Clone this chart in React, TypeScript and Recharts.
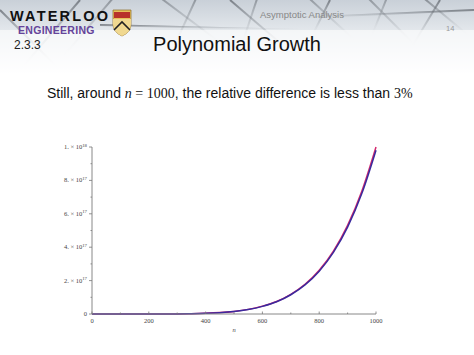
import React from "react";
import { Line, LineChart, XAxis, YAxis } from "recharts";

// n values and the two curves, in units of 10^18
const nValues = [0, 50, 100, 150, 200, 250, 300, 350, 400, 450, 500, 550, 600, 650, 700, 750, 800, 850, 900, 950, 1000];
const upperCurve = [0, 0, 0.000001, 0.00001, 0.00006, 0.00024, 0.0007, 0.0018, 0.0041, 0.0083, 0.0156, 0.0277, 0.047, 0.075, 0.118, 0.178, 0.262, 0.377, 0.531, 0.735, 1.0];
const lowerCurve = [0, 0, 0.0000009, 0.0000095, 0.000057, 0.00023, 0.00067, 0.00173, 0.00395, 0.008, 0.0151, 0.0269, 0.0457, 0.0731, 0.1153, 0.1741, 0.2563, 0.3692, 0.5204, 0.7209, 0.981];

const xTicks = [0, 100, 200, 300, 400, 500, 600, 700, 800, 900, 1000];
const xLabels = ["0", "", "200", "", "400", "", "600", "", "800", "", "1000"];
const yTicks = [0, 0.1, 0.2, 0.3, 0.4, 0.5, 0.6, 0.7, 0.8, 0.9, 1.0];
const yMantissa = ["0", "", "2.", "", "4.", "", "6.", "", "8.", "", "1."];
const yExponent = ["", "", "17", "", "17", "", "17", "", "17", "", "18"];

const data = nValues.map((n, i) => ({ n, upper: upperCurve[i], lower: lowerCurve[i] }));

const tickColor = "#777";
const labelColor = "#444";
const serif = "'Liberation Serif', 'DejaVu Serif', serif";

function YTick(props: any) {
  const { x, y, index } = props;
  const major = yMantissa[index] !== "";
  return (
    <g>
      <line x1={x - (major ? 3 : 1.5)} x2={x} y1={y} y2={y} stroke={tickColor} strokeWidth={0.8} />
      {major && (
        <text x={x - 5} y={y + 2} textAnchor="end" fontSize={6.5} fill={labelColor} fontFamily={serif}>
          {yExponent[index] ? (
            <>
              {yMantissa[index]} × 10
              <tspan dy={-2.5} fontSize={4.8}>
                {yExponent[index]}
              </tspan>
            </>
          ) : (
            yMantissa[index]
          )}
        </text>
      )}
    </g>
  );
}

function XTick(props: any) {
  const { x, y, index } = props;
  const major = xLabels[index] !== "";
  return (
    <g>
      <line x1={x} x2={x} y1={y} y2={y - (major ? 2.5 : 1.5)} stroke={tickColor} strokeWidth={0.8} />
      {major && (
        <text x={x} y={y + 9} textAnchor="middle" fontSize={6.5} fill={labelColor} fontFamily={serif}>
          {xLabels[index]}
        </text>
      )}
    </g>
  );
}

function Header() {
  const beams = [
    [120, -10, 60, 60], [150, -10, 230, 50], [200, -10, 170, 55], [230, 0, 300, 60],
    [260, -10, 240, 50], [300, -10, 360, 45], [330, 0, 310, 40], [360, -10, 420, 50],
    [390, -10, 370, 40], [420, -5, 474, 40], [440, 0, 410, 50], [80, 0, 20, 70],
    [0, 10, 60, 70], [250, 20, 474, 10], [100, 25, 300, 30],
  ];
  return (
    <svg width={474} height={75} style={{ position: "absolute", left: 0, top: 0 }}>
      <defs>
        <linearGradient id="fade" x1="0" y1="0" x2="0" y2="1">
          <stop offset="0" stopColor="#c9d0d8" />
          <stop offset="0.45" stopColor="#e6eaee" />
          <stop offset="1" stopColor="#ffffff" />
        </linearGradient>
        <linearGradient id="beamFade" x1="0" y1="0" x2="0" y2="1">
          <stop offset="0" stopColor="#5a5f66" stopOpacity={0.7} />
          <stop offset="0.6" stopColor="#8a9096" stopOpacity={0.2} />
          <stop offset="1" stopColor="#ffffff" stopOpacity={0} />
        </linearGradient>
      </defs>
      <rect x={0} y={0} width={474} height={75} fill="url(#fade)" />
      {beams.map((b, i) => (
        <line key={i} x1={b[0]} y1={b[1]} x2={b[2]} y2={b[3]} stroke="url(#beamFade)" strokeWidth={2} />
      ))}
      <rect x={0} y={30} width={474} height={45} fill="#ffffff" opacity={0.6} />
      {/* shield */}
      <path d="M113 10 L131 10 L131 24 Q131 32 122 36 Q113 32 113 24 Z" fill="#e7c15a" stroke="#8a6a2a" strokeWidth={0.7} />
      <path d="M113 19 L131 19 L131 24 Q131 32 122 36 Q113 32 113 24 Z" fill="#f0d890" />
      <path d="M114 12 L130 12 L130 18 L114 18 Z" fill="#b8322b" />
      <path d="M114 30 L122 22 L130 30" fill="none" stroke="#222" strokeWidth={1.6} />
    </svg>
  );
}

export default function App() {
  return (
    <div
      style={{
        position: "absolute",
        left: 0,
        top: 0,
        width: 474,
        height: 355,
        background: "#fff",
        overflow: "hidden",
        fontFamily: "'Liberation Sans', Arial, sans-serif",
      }}
    >
      <Header />
      <div style={{ position: "absolute", left: 10, top: 8, fontSize: 14.5, fontWeight: 700, color: "#111", letterSpacing: 2.2 }}>
        WATERLOO
      </div>
      <div style={{ position: "absolute", left: 18, top: 24, fontSize: 10.5, fontWeight: 700, color: "#65449a", letterSpacing: 0.3 }}>
        ENGINEERING
      </div>
      <div style={{ position: "absolute", left: 260, top: 9, fontSize: 9.5, color: "#888" }}>Asymptotic Analysis</div>
      <div style={{ position: "absolute", left: 446, top: 24, fontSize: 7.5, color: "#999" }}>14</div>
      <div style={{ position: "absolute", left: 14, top: 38, fontSize: 12, color: "#222" }}>2.3.3</div>
      <div style={{ position: "absolute", left: 0, width: 474, top: 33, fontSize: 20, color: "#111", textAlign: "center" }}>
        Polynomial Growth
      </div>
      <div style={{ position: "absolute", left: 47, top: 85, fontSize: 14, color: "#111", whiteSpace: "nowrap" }}>
        Still, around{" "}
        <span style={{ fontFamily: serif }}>
          <i>n</i> = 1000
        </span>
        , the relative difference is less than <span style={{ fontFamily: serif }}>3%</span>
      </div>
      <div style={{ position: "absolute", left: 40, top: 135 }}>
        <LineChart width={350} height={205} data={data} margin={{ top: 12, right: 14, left: 0, bottom: 6 }}>
          <XAxis
            dataKey="n"
            type="number"
            domain={[0, 1000]}
            ticks={xTicks}
            interval={0}
            tickSize={0}
            tickMargin={0}
            tick={<XTick />}
            height={20}
            stroke="#888"
            label={{ value: "n", position: "insideBottom", offset: 2, fontSize: 6.5, fontStyle: "italic", fill: labelColor, fontFamily: serif }}
          />
          <YAxis
            type="number"
            domain={[0, 1]}
            ticks={yTicks}
            interval={0}
            tickSize={0}
            tickMargin={0}
            tick={<YTick />}
            width={52}
            stroke="#888"
          />
          <Line type="monotone" dataKey="upper" stroke="#d4286e" strokeWidth={1.5} dot={false} isAnimationActive={false} />
          <Line type="monotone" dataKey="lower" stroke="#3a2a9e" strokeWidth={1.5} dot={false} isAnimationActive={false} />
        </LineChart>
      </div>
    </div>
  );
}
